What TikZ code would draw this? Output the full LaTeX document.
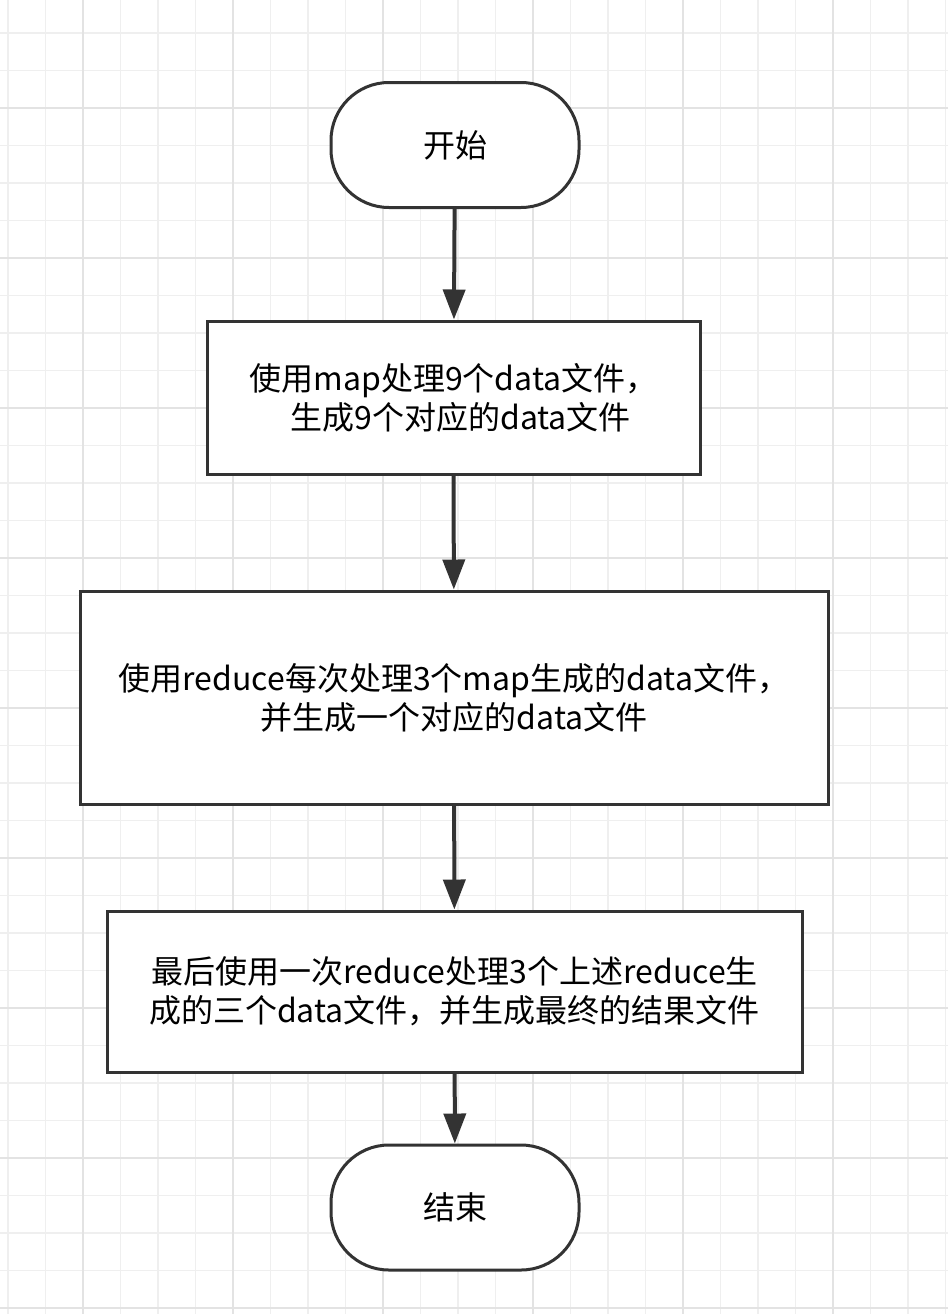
\documentclass[tikz,border=0pt]{standalone}
\usepackage{fontspec}
\setmainfont{Noto Sans CJK SC}
\usetikzlibrary{arrows.meta}
\definecolor{minorg}{HTML}{EFEFEF}
\definecolor{majorg}{HTML}{E3E3E3}
\definecolor{ink}{HTML}{333333}
\tikzset{
  boxst/.style={draw=ink,line width=3pt,fill=white,minimum width=#1,align=center,font=\fontsize{32}{39}\selectfont,inner sep=0pt},
  term/.style={draw=ink,line width=3pt,fill=white,rounded corners=58pt,minimum width=248pt,minimum height=125pt,font=\fontsize{32}{39}\selectfont},
  arr/.style={draw=ink,line width=4pt,-{Triangle[length=30pt,width=22pt]}}
}
\begin{document}
\begin{tikzpicture}[x=1pt,y=-1pt]
\useasboundingbox (0,0) rectangle (948,1314);
\fill[white] (0,0) rectangle (948,1314);
\foreach \i in {0,...,25} {\draw[minorg,line width=1.5pt] (8+37.5*\i,0) -- (8+37.5*\i,1314);}
\foreach \i in {0,...,35} {\draw[minorg,line width=1.5pt] (0,33+37.5*\i) -- (948,33+37.5*\i);}
\foreach \i in {0,...,6} {\draw[majorg,line width=1.5pt] (83+150*\i,0) -- (83+150*\i,1314);}
\foreach \i in {0,...,8} {\draw[majorg,line width=1.5pt] (0,108+150*\i) -- (948,108+150*\i);}
\node[term] (s) at (455,145) {开始};
\node[boxst=493pt,minimum height=153pt] (b1) at (453.5,397.5) {使用map处理9个data文件，\\\ \ 生成9个对应的data文件};
\node[boxst=748pt,minimum height=213pt] (b2) at (454,697.5) {使用reduce每次处理3个map生成的data文件，\\并生成一个对应的data文件};
\node[boxst=695pt,minimum height=161pt] (b3) at (454.5,991.5) {最后使用一次reduce处理3个上述reduce生\\成的三个data文件，并生成最终的结果文件};
\node[term] (e) at (455,1207.5) {结束};
\draw[arr] (s) -- (b1);
\draw[arr] (b1) -- (b2);
\draw[arr] (b2) -- (b3);
\draw[arr] (b3) -- (e);
\end{tikzpicture}
\end{document}
